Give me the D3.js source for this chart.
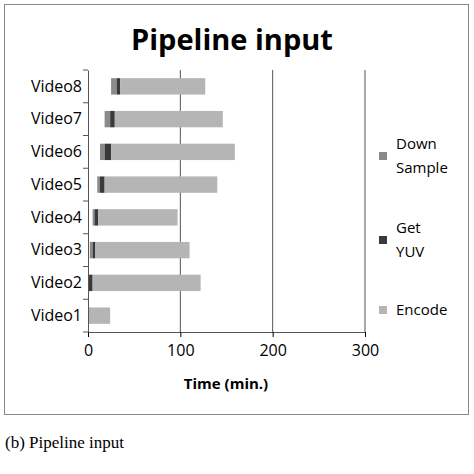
<!DOCTYPE html><html><head><script src="https://d3js.org/d3.v7.min.js"></script>
<style>body{margin:0;background:#fff}</style></head><body><svg width="474" height="474"></svg><script>
const categories=["Video1","Video2","Video3","Video4","Video5","Video6","Video7","Video8"];
const offset=[0,0,2,5,10,13,18,25];
const downSample=[0,1,3,2,3,5,6,6];
const getYUV=[1.5,4,3,4,5,7,5,4];
const encode=[22.5,117,102,86,122,134,117,92];
const ticks=[0,100,200,300];
const svg=d3.select("svg");
const F="Open Sans, sans-serif";
svg.append("rect").attr("x",4.5).attr("y",4.5).attr("width",464).attr("height",410).attr("fill","none").attr("stroke","#888");
svg.append("text").attr("x",232).attr("y",50).attr("text-anchor","middle").attr("font-family",F).attr("font-weight","bold").attr("font-size",29).text("Pipeline input");
const x=d3.scaleLinear().domain([0,300]).range([88,365]);
const y=d3.scaleBand().domain(categories.slice().reverse()).range([70,332]).paddingInner(0.5).paddingOuter(0.25);
svg.selectAll(".g").data(ticks.slice(1)).join("line").attr("x1",d=>x(d)).attr("x2",d=>x(d)).attr("y1",70).attr("y2",332).attr("stroke","#555");
const series=[{v:offset,c:"none"},{v:downSample,c:"#8a8a8a"},{v:getYUV,c:"#3a3a3a"},{v:encode,c:"#b5b5b5"}];
categories.forEach((cat,i)=>{let acc=0;series.forEach(s=>{const v=s.v[i];if(s.c!=="none"&&v>0)svg.append("rect").attr("x",x(acc)).attr("width",x(acc+v)-x(acc)).attr("y",y(cat)).attr("height",y.bandwidth()).attr("fill",s.c);acc+=v;});});
const ax=svg.append("g").attr("transform","translate(0,332)").call(d3.axisBottom(x).tickValues(ticks).tickSize(5));
ax.selectAll("text").attr("font-family",F).attr("font-size",16).attr("fill","#000").attr("dy","1em");
ax.select(".domain").attr("stroke","#555");
const ay=svg.append("g").attr("transform","translate(88,0)").call(d3.axisLeft(y).tickSize(0).tickPadding(6));
ay.selectAll("text").attr("font-family",F).attr("font-size",16).attr("fill","#000");
ay.select(".domain").attr("stroke","#555");
svg.selectAll(".yt").data(d3.range(9)).join("line").attr("x1",83).attr("x2",88).attr("y1",d=>70+d*262/8).attr("y2",d=>70+d*262/8).attr("stroke","#555");
svg.append("text").attr("x",226).attr("y",389).attr("text-anchor","middle").attr("font-family",F).attr("font-weight","bold").attr("font-size",15).text("Time (min.)");
const legend=[{n:["Down","Sample"],c:"#8a8a8a",y:156},{n:["Get","YUV"],c:"#3a3a3a",y:240},{n:["Encode"],c:"#b5b5b5",y:310}];
legend.forEach(l=>{svg.append("rect").attr("x",379).attr("y",l.y-4).attr("width",8).attr("height",8).attr("fill",l.c);
l.n.forEach((t,j)=>svg.append("text").attr("x",396).attr("y",l.y+5+(j-(l.n.length-1)/2)*24).attr("font-family",F).attr("font-size",15).text(t));});
svg.append("text").attr("x",5).attr("y",448).attr("font-family","Liberation Serif, serif").attr("font-size",17).text("(b) Pipeline input");
</script></body></html>
